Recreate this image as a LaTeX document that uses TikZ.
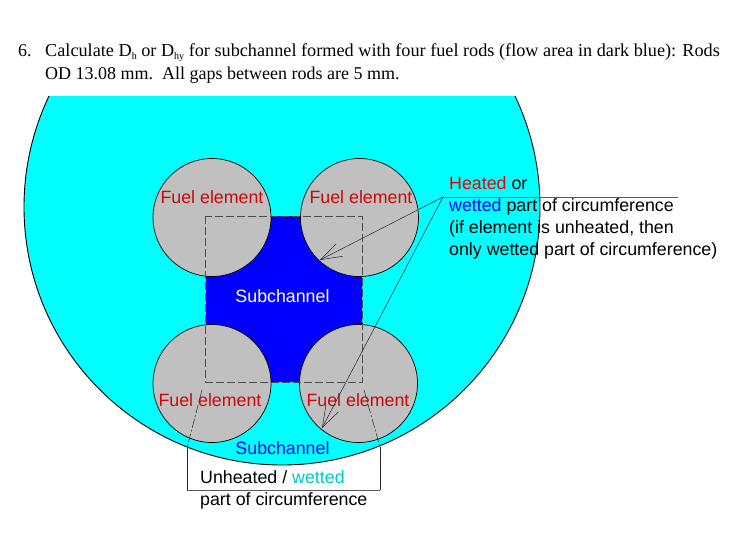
\documentclass[tikz,border=0pt]{standalone}
\usepackage{fontspec}
\setmainfont{Liberation Serif}
\setsansfont{Liberation Sans}
\usetikzlibrary{arrows.meta}
\definecolor{fuelgray}{RGB}{192,192,192}
\definecolor{fuelred}{RGB}{200,10,10}
\definecolor{heatred}{RGB}{235,0,0}
\definecolor{wetcyan}{RGB}{0,200,200}
\definecolor{vesselcyan}{RGB}{0,255,255}
\definecolor{channelblue}{RGB}{0,0,255}
\newcommand{\subidx}[1]{\raisebox{-2pt}{\fontsize{10}{10}\selectfont #1}}

\begin{document}
\begin{tikzpicture}[x=1pt,y=-1pt,>={Straight Barb[length=21pt,width=14pt]},
  rod/.style={circle,draw=black,fill=fuelgray,line width=0.7pt,minimum size=118pt,inner sep=0pt},
  fueltext/.style={font=\sffamily\fontsize{17.8}{20}\selectfont,text=fuelred,inner sep=0pt},
  labeltext/.style={font=\sffamily\fontsize{17.8}{20}\selectfont,anchor=base west,inner sep=0pt},
  headtext/.style={font=\fontsize{18}{21}\selectfont,anchor=base west,inner sep=0pt},
  thin line/.style={line width=0.5pt,black!85},
  grey line/.style={line width=0.9pt,black!65}]
  \useasboundingbox (0,0) rectangle (753,543);

  \node [headtext] (number) at (18,57) {6.};
  \node [headtext,font=\fontsize{18.23}{21}\selectfont] (line1) at (45,57) {Calculate D\subidx{h} or D\subidx{hy} for subchannel formed with four fuel rods (flow area in dark blue): Rods};
  \node [headtext] (line2) at (45,80) {OD 13.08 mm.\ \ All gaps between rods are 5 mm.};

  % vessel is cut off at the top
  \begin{scope}
    \clip (0,97) rectangle (753,543);
    \node [circle,draw=black,fill=vesselcyan,line width=0.9pt,minimum size=516pt,inner sep=0pt] (vessel) at (282,207) {};
  \end{scope}

  \node [fill=channelblue,minimum width=156pt,minimum height=165.5pt,inner sep=0pt] (channel) at (284,299.2) {};
  \node [text=white,font=\sffamily\fontsize{17.8}{20}\selectfont,inner sep=0pt] (channeltext) at (282.5,296) {Subchannel};

  \node [rod] (rodA) at (212,217.5) {};
  \node [rod] (rodB) at (359.5,217.5) {};
  \node [rod] (rodC) at (212,383.5) {};
  \node [rod] (rodD) at (358.5,383.5) {};

  \draw [dash pattern=on 8pt off 3pt,line width=1.3pt,black!70]
    (channel.north west) rectangle (channel.south east);

  \node [fueltext] (fuelA) at (212,197) {Fuel element};
  \node [fueltext] (fuelB) at (361,197) {Fuel element};
  \node [fueltext] (fuelC) at (210,400) {Fuel element};
  \node [fueltext] (fuelD) at (358,400) {Fuel element};
  \node [fueltext,text=channelblue] (bottomtext) at (282.5,448) {Subchannel};

  \node [labeltext] (heated) at (449,189.5) {\textcolor{heatred}{Heated} or};
  \node [labeltext] (wetted) at (449,211.5) {\textcolor{channelblue}{wetted} part of circumference};
  \node [labeltext] (unheated) at (449,233.5) {(if element is unheated, then};
  \node [labeltext] (only) at (449,255.5) {only wetted part of circumference)};
  \node [labeltext] (bracketA) at (200,483.5) {Unheated / \textcolor{wetcyan}{wetted}};
  \node [labeltext] (bracketB) at (200,505.5) {part of circumference};

  \coordinate (corner) at (443,197);
  \coordinate (lineend) at (678,197);
  \coordinate (tipB) at (320,260);
  \coordinate (tipD) at (322,428);
  \coordinate (startC) at (202,390);
  \coordinate (kneeC) at (187,448);
  \coordinate (lowC) at (187,490);
  \coordinate (startD) at (364,390);
  \coordinate (kneeD) at (380,447);
  \coordinate (lowD) at (380,490);

  \draw [grey line] (corner) -- (lineend);
  \draw [thin line,->] (corner) -- (tipB);
  \draw [thin line,->] (corner) -- (tipD);

  \draw [thin line,dash pattern=on 9pt off 2pt on 2pt off 2pt] (startC) -- (kneeC);
  \draw [thin line,dash pattern=on 9pt off 2pt on 2pt off 2pt] (startD) -- (kneeD);
  \draw [thin line] (lowC) -- (kneeC);
  \draw [thin line] (lowD) -- (kneeD);
  \draw [grey line] (lowC) -- (lowD);
\end{tikzpicture}
\end{document}
